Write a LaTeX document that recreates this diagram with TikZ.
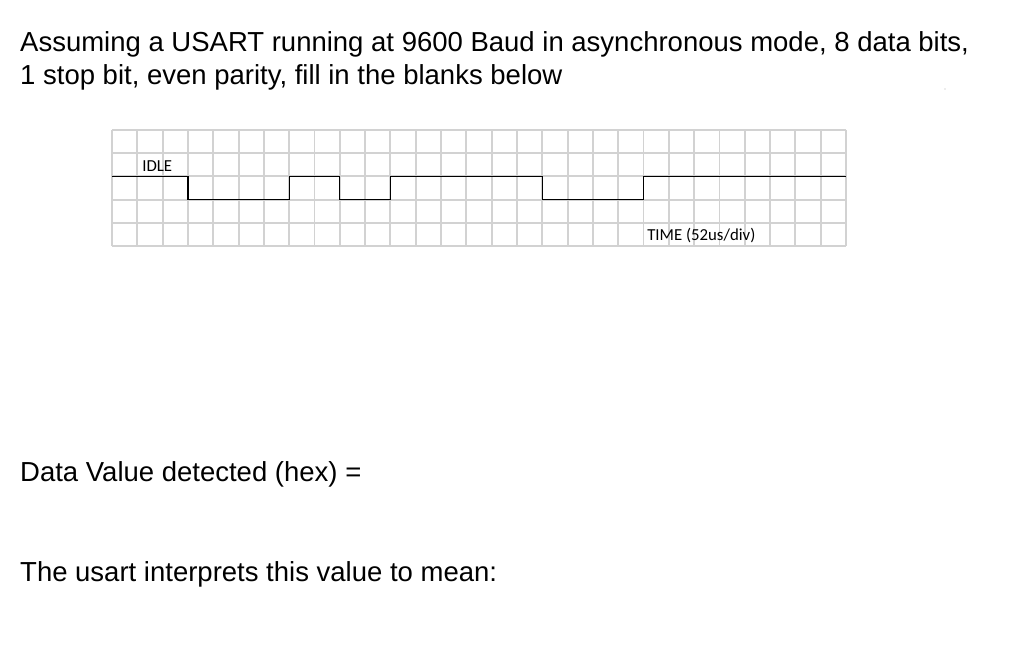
\documentclass[tikz,border=0pt]{standalone}
\usepackage{fontspec}
\setmainfont{Liberation Sans}
\newfontfamily\gridfont{Carlito}
\begin{document}
\begin{tikzpicture}[x=1pt,y=1pt,
    question/.style={anchor=base west, inner sep=0pt, font=\fontsize{27.5}{35}\selectfont},
    gridlabel/.style={anchor=base west, inner sep=0pt, font=\gridfont\fontsize{16.8}{20}\selectfont},
    gridline/.style={draw=gray!35, line width=1.9pt},
    signal/.style={draw=black, line width=1.2pt}]
    \useasboundingbox (0,0) rectangle (1024,670);
    \node[question] (line1) at (20,618) {Assuming a USART running at 9600 Baud in asynchronous mode, 8 data bits,};
    \node[question] (line2) at (20,585) {1 stop bit, even parity, fill in the blanks below};
    \node[question] (hexval) at (20,189) {Data Value detected (hex) =};
    \node[question] (meaning) at (20,89) {The usart interprets this value to mean:};
    \fill[gray!60] (945,581) circle (0.7pt);
    % timing grid, one div per column
    \begin{scope}[shift={(112,540)}, x=25.31pt, y=-23.2pt]
        \foreach \c in {0,...,29}
            \draw[gridline] (\c,0) -- (\c,5);
        \foreach \r in {0,...,5}
            \draw[gridline] (0,\r) -- (29,\r);
        \draw[signal] (0,2) -- (3,2) -- (3,3) -- (7,3) -- (7,2) -- (9,2) -- (9,3)
            -- (11,3) -- (11,2) -- (17,2) -- (17,3) -- (21,3) -- (21,2) -- (29,2);
        \node[gridlabel] (idle) at (1.19,1.80) {IDLE};
        \node[gridlabel] (time) at (21.14,4.78) {TIME (52us/div)};
    \end{scope}
\end{tikzpicture}
\end{document}
